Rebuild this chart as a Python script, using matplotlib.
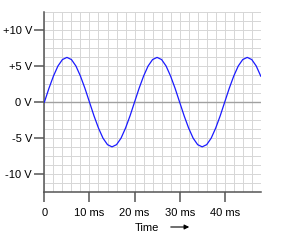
import numpy as np
import matplotlib.pyplot as plt

# Time axis in ms, one sample per ms
time_ms = list(range(0, 49))
# Voltage (V), 20 ms period
voltage = [0.0, 1.9, 3.6, 5.0, 5.9, 6.2, 5.9, 5.0, 3.6, 1.9,
           0.0, -1.9, -3.6, -5.0, -5.9, -6.2, -5.9, -5.0, -3.6, -1.9,
           0.0, 1.9, 3.6, 5.0, 5.9, 6.2, 5.9, 5.0, 3.6, 1.9,
           0.0, -1.9, -3.6, -5.0, -5.9, -6.2, -5.9, -5.0, -3.6, -1.9,
           0.0, 1.9, 3.6, 5.0, 5.9, 6.2, 5.9, 5.0, 3.6]

y_ticks = [-10, -5, 0, 5, 10]
y_labels = ['-10 V', '-5 V', '0 V', '+5 V', '+10 V']
x_ticks = [0, 10, 20, 30, 40]
x_labels = ['0', '10 ms', '20 ms', '30 ms', '40 ms']

plt.rcParams['font.family'] = ['Liberation Sans', 'DejaVu Sans']

fig = plt.figure(figsize=(2.81, 2.44), dpi=100)
ax = fig.add_axes([0.158, 0.212, 0.770, 0.739])

# fine grid
for gx in np.arange(0, 48.1, 2):
    ax.axvline(gx, color='#d6d6d6', lw=0.7, zorder=0)
for gy in np.arange(-12.5, 12.6, 1.25):
    ax.axhline(gy, color='#d6d6d6', lw=0.7, zorder=0)
ax.axhline(0, color='#a0a0a0', lw=1.0, zorder=1)

ax.plot(time_ms, voltage, color='#1a1aff', lw=0.9, zorder=3)

ax.set_xlim(0, 48)
ax.set_ylim(-12.5, 12.5)
ax.set_xticks(x_ticks)
ax.set_xticklabels(x_labels)
ax.set_yticks(y_ticks)
ax.set_yticklabels(y_labels)
ax.tick_params(axis='both', colors='#555555', labelcolor='black', labelsize=8,
               length=7, width=1.1)
ax.tick_params(axis='y', pad=2)
ax.tick_params(axis='x', pad=4)

for s in ['top', 'right']:
    ax.spines[s].set_visible(False)
for s in ['left', 'bottom']:
    ax.spines[s].set_color('#555555')
    ax.spines[s].set_linewidth(1.1)

fig.text(135 / 281, 1 - 228 / 244, 'Time', fontsize=8, va='center', ha='left')
ax.annotate('', xy=(192 / 281, 1 - 227 / 244), xytext=(168 / 281, 1 - 227 / 244),
            xycoords='figure fraction', textcoords='figure fraction',
            arrowprops=dict(arrowstyle='-|>', color='black', lw=0.8,
                            mutation_scale=7))

fig.savefig('out.png', dpi=100)
